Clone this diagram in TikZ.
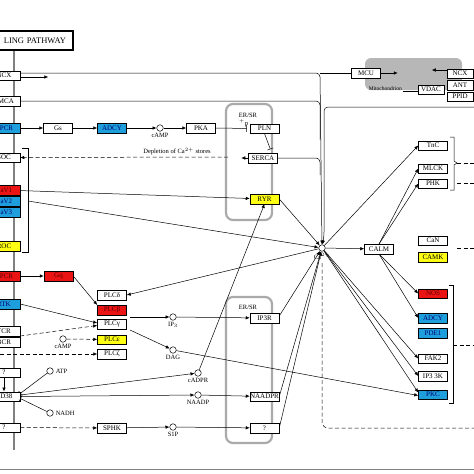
\documentclass[tikz,border=0pt]{standalone}
\usepackage{fontspec}
\setmainfont{Liberation Serif}
\usetikzlibrary{arrows.meta, positioning}
\definecolor{KeggBlue}{RGB}{30,158,218}
\definecolor{KeggRed}{RGB}{235,20,20}
\definecolor{KeggYellow}{RGB}{255,255,20}
\definecolor{ErGray}{RGB}{170,170,170}

\tikzset{
  gene/.style={draw, fill=white, minimum width=29pt, minimum height=9.5pt, inner sep=0pt, font=\fontsize{7}{8}\selectfont},
  bluegene/.style={gene, fill=KeggBlue, text=blue!45!black},
  redgene/.style={gene, fill=KeggRed, text=red!35!black},
  yelgene/.style={gene, fill=KeggYellow},
  memgene/.style={minimum width=32pt},
  mitogene/.style={minimum width=26pt},
  cpd/.style={circle, draw, fill=white, minimum size=6.5pt, inner sep=0pt},
  cpdlabel/.style={font=\fontsize{6.5}{7}\selectfont, inner sep=0.5pt},
  act/.style={-{Latex[length=4pt,width=3.5pt]}},
  inh/.style={-{Bar[width=6pt]}},
  indirect/.style={act, dash pattern=on 4pt off 2.5pt},
}

\begin{document}
\begin{tikzpicture}[x=1pt, y=-1pt, line width=0.5pt]
    \useasboundingbox (0,0) rectangle (474,474);
    \clip (0,0) rectangle (474,474);

    % Membrane, ER/SR and mitochondrion
    \draw[line width=2.4pt, gray] (14,50) -- (14,450);
    \draw[ErGray, line width=2.2pt, rounded corners=7pt] (226,104) rectangle (272,220);
    \draw[ErGray, line width=2.2pt, rounded corners=7pt] (226,297) rectangle (272,443);
    \fill[ErGray!85, rounded corners=6pt] (365,58) rectangle (462,90);
    \node[cpdlabel] (er1) at (248,115) {ER/SR};
    \node[cpdlabel] (er2) at (248,307) {ER/SR};

    % Title
    \node[draw, line width=1.1pt, fill=white, minimum height=19pt, text width=72pt, align=right, inner xsep=7pt, font=\fontsize{8.5}{9}\selectfont] (title) at (30,40.5) {LING\ PATHWAY};

    % Plasma membrane column
    \node[gene, memgene] (ncxL) at (4,75.5) {NCX};
    \node[gene, memgene] (pmca) at (4,101) {PMCA};
    \node[bluegene, memgene] (gpcrS) at (4,128) {GPCR};
    \node[gene, memgene] (soc) at (4,157.5) {SOC};
    \node[redgene, memgene] (cav1) at (4,190) {CaV1};
    \node[bluegene, memgene] (cav2) at (4,201) {CaV2};
    \node[bluegene, memgene] (cav3) at (4,212) {CaV3};
    \node[yelgene, memgene] (roc) at (4,246) {ROC};
    \node[redgene, memgene] (gpcrQ) at (4,276) {GPCR};
    \node[bluegene, memgene] (rtk) at (4,304) {RTK};
    \node[gene, memgene] (tcr) at (4,331) {TCR};
    \node[gene, memgene] (bcr) at (4,342) {BCR};
    \node[gene, memgene] (unkA) at (4,372.5) {?};
    \node[gene, memgene] (cd38) at (4,396.5) {CD38};
    \node[gene, memgene] (unkB) at (4,427.5) {?};

    % Middle
    \node[gene] (gs) at (58,128) {Gs};
    \node[bluegene] (adcyA) at (112,128) {ADCY};
    \node[cpd] (campA) at (160,128) {};
    \node[cpdlabel, below=1pt of campA] (campAl) {cAMP};
    \node[gene] (pka) at (201,128) {PKA};
    \node[gene] (pln) at (264.5,128.5) {PLN};
    \node[gene] (serca) at (263,158) {SERCA};
    \node[yelgene] (ryr) at (264.5,199) {RYR};
    \node[gene] (ip3r) at (264.5,318) {IP3R};
    \node[gene] (naadpr) at (264.5,396.5) {NAADPR};
    \node[gene] (unkC) at (264.5,428) {?};
    \node[redgene] (gq) at (58.5,276) {Gq};
    \node[gene] (plcd) at (112,295) {PLCδ};
    \node[redgene] (plcb) at (112,310) {PLCβ};
    \node[gene] (plcg) at (112,324) {PLCγ};
    \node[yelgene] (plce) at (112,339.5) {PLCε};
    \node[gene] (plcz) at (112,354) {PLCζ};
    \node[gene] (sphk) at (112,428) {SPHK};
    \node[cpd] (campB) at (63,339) {};
    \node[cpdlabel, below=1pt of campB] (campBl) {cAMP};
    \node[cpd] (ip3) at (173,317) {};
    \node[cpdlabel, below=1pt of ip3] (ip3l) {IP$_3$};
    \node[cpd] (dag) at (173,350) {};
    \node[cpdlabel, below=1pt of dag] (dagl) {DAG};
    \node[cpd] (cadpr) at (198,373) {};
    \node[cpdlabel, below=1pt of cadpr] (cadprl) {cADPR};
    \node[cpd] (naadp) at (198,395) {};
    \node[cpdlabel, below=1pt of naadp] (naadpl) {NAADP};
    \node[cpd] (s1p) at (173,427) {};
    \node[cpdlabel, below=1pt of s1p] (s1pl) {S1P};
    \node[cpd] (atp) at (50,371) {};
    \node[cpdlabel, right=1.5pt of atp] (atpl) {ATP};
    \node[cpd] (nadh) at (50,413) {};
    \node[cpdlabel, right=1.5pt of nadh] (nadhl) {NADH};
    \node[cpd] (ca) at (322,248) {};
    \node[cpdlabel, below=1pt of ca] (cal) {Ca$^{2+}$};

    % Right column
    \node[gene] (calm) at (379,249) {CALM};
    \node[gene] (tnc) at (433,145.5) {TnC};
    \node[gene] (mlck) at (433,168.5) {MLCK};
    \node[gene] (phk) at (433,183.5) {PHK};
    \node[gene] (can) at (433,240.5) {CaN};
    \node[yelgene] (camk) at (433,257) {CAMK};
    \node[redgene] (nos) at (433,293.5) {NOS};
    \node[bluegene] (adcyB) at (433,318) {ADCY};
    \node[bluegene] (pde1) at (433,333) {PDE1};
    \node[gene] (fak2) at (433,358.5) {FAK2};
    \node[gene] (ip3k) at (433,376) {IP3 3K};
    \node[bluegene] (pkc) at (433,394.5) {PKC};

    % Mitochondrion
    \node[gene] (mcu) at (366,73) {MCU};
    \node[gene, mitogene] (ncxR) at (460,73.5) {NCX};
    \node[gene, mitogene] (ant) at (460,85) {ANT};
    \node[gene, mitogene] (ppid) at (460,96.5) {PPID};
    \node[gene, mitogene] (vdac) at (431,89.5) {VDAC};
    \node[font=\fontsize{5.5}{6}\selectfont, inner sep=0.5pt, anchor=south west] (mitol) at (368,91) {Mitochondrion};
    \draw (mitol.south east) -- (vdac.west |- mitol.south east);

    % Ca2+ efflux and stores
    \coordinate (fork) at (320,73);
    \coordinate (mitoR) at (474,107);
    \draw[act] ([yshift=-1.5pt]ncxL.east) -- ++(28,0);
    \draw[act, rounded corners=4pt] ([yshift=2.5pt]ncxL.east) -- (fork) -- (ca);
    \draw[rounded corners=4pt] (pmca.east) -- (320,101) -- (320,140);
    \draw[rounded corners=4pt] (serca.east) -- (320,158) -- (320,175);
    \draw[act, rounded corners=4pt] (mitoR) -- (324,107) -- (324,236) -- (ca);
    \draw (fork) -- (mcu.west);
    \draw[act] (mcu.east) -- ++(17,0);
    \draw[act] ([yshift=3.5pt]ncxR.west) -- ++(-15,0);

    % cAMP branch
    \draw[act] (gpcrS) -- (gs);
    \draw[act] (gs) -- (adcyA);
    \draw[act] (adcyA) -- (campA);
    \draw[act] (campA) -- (pka);
    \draw[-{Bar[width=7pt]}, shorten >=3pt] (pka) -- (pln) node[pos=0.82, above=1pt, cpdlabel] (phos) {$^{+}$p};
    \draw[inh, shorten >=4pt] (pln.south) -- ([xshift=-6pt]serca.north east);
    \draw[act] (serca.west) -- ++(-7,0);
    \coordinate (depl) at (228,157);
    \draw[indirect] (depl) -- (soc.east);
    \node[cpdlabel] (deplt) at (177,151.5) {Depletion of Ca$^{2+}$ stores};

    % Channels
    \coordinate (vocbr) at (28,201);
    \draw (22,148) -- (28,148) -- (28,252) -- (22,252);
    \draw[act] (vocbr) -- (ca);
    \draw[act] (cav1) -- (ryr);
    \draw[act] (ryr.east) -- (ca);
    \draw[act] (cadpr) -- (ryr.south);

    % PLC branch
    \coordinate (zetain) at (0,354);
    \coordinate (plcout) at (130,317);
    \coordinate (plcdag) at (130,330);
    \draw[act] (gpcrQ) -- (gq);
    \draw[act] (gq.east) -- (plcb.north west);
    \draw[act] (rtk.east) -- ([yshift=1pt]plcg.west);
    \draw[indirect] (tcr.south east) -- ([yshift=-1.5pt]plcg.west);
    \draw[indirect] (campB) -- (plce);
    \draw[indirect] (zetain) -- (plcz);
    \draw[act] (ca) -- (plcd.east);
    \draw[act] (plcout) -- (ip3);
    \draw[act] (ip3) -- (ip3r);
    \draw[act] (plcdag) -- (dag);
    \draw[act] (dag) -- ([yshift=-1pt]pkc.west);

    % CD38 and SPHK
    \draw[act] (unkA) -- (cd38);
    \draw[inh] (atp) -- ([yshift=3pt]cd38.east);
    \draw[inh] (nadh) -- ([yshift=-2pt]cd38.east);
    \draw[act] ([yshift=1.5pt]cd38.east) -- (cadpr);
    \draw[act] (cd38.east) -- (naadp);
    \draw[act] (naadp) -- (naadpr);
    \draw[indirect] (unkB) -- (sphk);
    \draw[act] (sphk) -- (s1p);
    \draw[act] (s1p) -- (unkC);
    \draw[act] ([yshift=2pt]ip3r.east) -- (ca);
    \draw[act] (naadpr.east) -- (ca);
    \draw[act] (unkC.east) -- (ca);

    % Ca2+ targets
    \draw[act] (ca) -- (calm);
    \draw[act] (ca) -- (tnc.west);
    \draw[act] (calm.north) -- (mlck.west);
    \draw[act] (calm.north) -- (phk.west);
    \draw[act] (calm.south) -- (nos.west);
    \draw[act] (calm.south) -- (adcyB.west);
    \draw[act] (ca) -- (fak2.west);
    \draw[act] (ca) -- (ip3k.west);
    \draw[act] (ca) -- ([yshift=2pt]pkc.west);

    % Groups on the right
    \draw (450,137) -- (454,137) -- (454,161) -- (457,163) -- (454,165) -- (454,190) -- (450,190);
    \draw[dash pattern=on 4pt off 2.5pt] (457,163) -- (474,163);
    \draw[dash pattern=on 4pt off 2.5pt] (457,183) -- (474,183);
    \draw[dash pattern=on 4pt off 2.5pt] (457,248) -- (474,248);
    \draw (449,285) -- (453,285) -- (453,403) -- (449,403);
    \draw[dash pattern=on 4pt off 2.5pt] (453,345) -- (474,345);
    \coordinate (caout) at (322,263);
    \draw[dash pattern=on 4pt off 2.5pt, rounded corners=6pt] (caout) -- (322,428) -- (474,428);

    % Bottom edge
    \draw[gray, line width=0.8pt] (0,469) -- (474,469);
\end{tikzpicture}
\end{document}
